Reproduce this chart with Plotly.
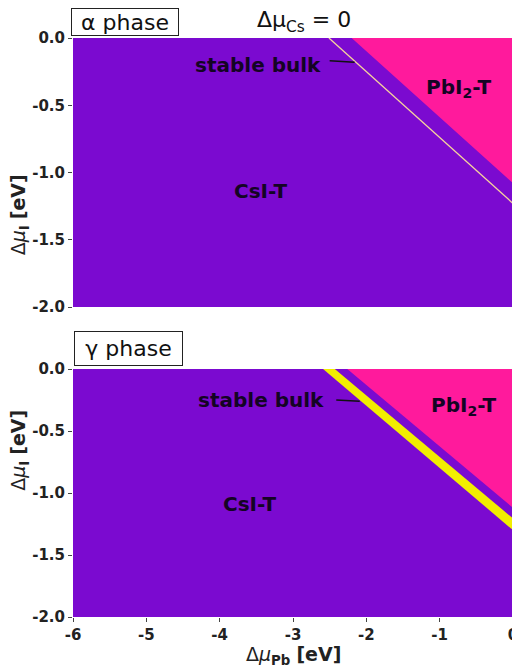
import plotly.graph_objects as go

# region boundaries, x = dmu_Pb, y = dmu_I
x_range = [-6, 0]
y_range = [-2.0, 0.0]

csi_x = [-6, 0, 0, -6]
csi_y = [0, 0, -2, -2]

# alpha phase
a_pbi2_x = [-2.20, 0, 0]
a_pbi2_y = [0, -1.08, 0]
a_bulk_x = [-2.51, 0]
a_bulk_y = [0, -1.23]

# gamma phase
g_pbi2_x = [-2.26, 0, 0]
g_pbi2_y = [0, -1.12, 0]
g_bulk_x = [-2.59, -2.43, 0, 0]
g_bulk_y = [0, 0, -1.205, -1.30]

xticks = [-6, -5, -4, -3, -2, -1, 0]
yticks = [0.0, -0.5, -1.0, -1.5, -2.0]

PURPLE = "#7b0ad0"
PINK = "#ff1a9c"
YELLOW = "#f2ee00"
TXT = "#140424"

fig = go.Figure()

for xa, ya in [("x", "y"), ("x2", "y2")]:
    fig.add_trace(go.Scatter(x=csi_x, y=csi_y, fill="toself", fillcolor=PURPLE,
                             mode="none", xaxis=xa, yaxis=ya, hoverinfo="skip"))

fig.add_trace(go.Scatter(x=a_pbi2_x, y=a_pbi2_y, fill="toself", fillcolor=PINK,
                         mode="none", xaxis="x", yaxis="y"))
fig.add_trace(go.Scatter(x=a_bulk_x, y=a_bulk_y, mode="lines",
                         line=dict(color="#f6d49c", width=1.3), xaxis="x", yaxis="y"))

fig.add_trace(go.Scatter(x=g_pbi2_x, y=g_pbi2_y, fill="toself", fillcolor=PINK,
                         mode="none", xaxis="x2", yaxis="y2"))
fig.add_trace(go.Scatter(x=g_bulk_x, y=g_bulk_y, fill="toself", fillcolor=YELLOW,
                         mode="none", xaxis="x2", yaxis="y2"))

tickfont = dict(family="DejaVu Sans", size=15, color="#222222", weight="bold")

common_y = dict(range=y_range, tickvals=yticks, ticktext=["%.1f" % v for v in yticks],
                ticks="outside", ticklen=4, tickcolor="#444444", tickfont=tickfont,
                showgrid=False, zeroline=False, showline=False, automargin=False)

# page body has an 8px margin, so the figure is a bit smaller than the window
fig.update_layout(
    width=512, height=663,
    margin=dict(l=65, r=7, t=30, b=54),
    plot_bgcolor="white", paper_bgcolor="white",
    showlegend=False,
    xaxis=dict(domain=[0, 1], range=x_range, anchor="y", showticklabels=False,
               ticks="", showgrid=False, zeroline=False, showline=False, automargin=False),
    yaxis=dict(domain=[0.5354, 1], anchor="x", **common_y),
    xaxis2=dict(domain=[0, 1], range=x_range, anchor="y2", tickvals=xticks,
                ticktext=[str(v) for v in xticks],
                ticks="outside", ticklen=4, tickcolor="#444444", tickfont=tickfont,
                showgrid=False, zeroline=False, showline=False, automargin=False),
    yaxis2=dict(domain=[0, 0.4283], anchor="x2", **common_y),
)

axfont = dict(family="DejaVu Sans", size=19, color="#222222")
ytitle = "Δ<i>μ</i><sub><b>I</b></sub> <b>[eV]</b>"

lab = dict(family="DejaVu Sans", size=20, color=TXT, weight="bold")
box = dict(family="DejaVu Sans", size=22, color="#111111")
annots = [
    dict(x=-2.59, y=-0.2, xref="x", yref="y", text="stable bulk", xanchor="right", font=lab),
    dict(x=-0.74, y=-0.37, xref="x", yref="y", text="PbI<sub>2</sub>-T", font=lab),
    dict(x=-3.45, y=-1.14, xref="x", yref="y", text="CsI-T", font=lab),
    dict(x=-2.55, y=-0.25, xref="x2", yref="y2", text="stable bulk", xanchor="right", font=lab),
    dict(x=-0.67, y=-0.30, xref="x2", yref="y2", text="PbI<sub>2</sub>-T", font=lab),
    dict(x=-3.59, y=-1.09, xref="x2", yref="y2", text="CsI-T", font=lab),
    dict(x=-0.005, y=1.0, xref="x domain", yref="paper", yanchor="bottom", xanchor="left",
         yshift=2, text="α phase", bordercolor="#222222", borderwidth=1, width=104, height=24,
         borderpad=1, bgcolor="white", font=box),
    dict(x=0.002, y=0.4283, xref="x domain", yref="paper", yanchor="bottom", xanchor="left",
         yshift=3, text="γ phase", bordercolor="#222222", borderwidth=1, width=105, height=31,
         borderpad=1, bgcolor="white", font=box),
    dict(x=0.525, y=1.0, xref="paper", yref="paper", yanchor="bottom", xanchor="center",
         text="Δμ<sub>Cs</sub> = 0", yshift=0,
         font=dict(family="DejaVu Sans", size=22, color="#111111")),
    # axis titles
    dict(x=-0.122, y=0.7677, xref="x domain", yref="paper", xanchor="center",
         text=ytitle, textangle=-90, font=axfont),
    dict(x=-0.122, y=0.2141, xref="x domain", yref="paper", xanchor="center",
         text=ytitle, textangle=-90, font=axfont),
    dict(x=0.5, y=0, xref="paper", yref="paper", yanchor="top", xanchor="center", yshift=-24,
         text="Δ<i>μ</i><sub><b>Pb</b></sub> <b>[eV]</b>", font=axfont),
]
for a in annots:
    a.setdefault("showarrow", False)
    fig.add_annotation(**a)

# pointer lines to the stable-bulk strip
fig.add_shape(type="line", x0=-2.50, y0=-0.17, x1=-2.16, y1=-0.18, xref="x", yref="y",
              line=dict(color="#111111", width=1.5))
fig.add_shape(type="line", x0=-2.41, y0=-0.25, x1=-2.09, y1=-0.26, xref="x2", yref="y2",
              line=dict(color="#111111", width=1.5))

fig.write_html("out.html")
